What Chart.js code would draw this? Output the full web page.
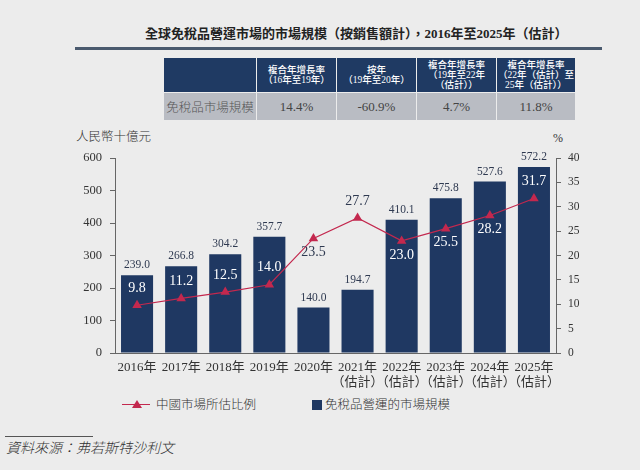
<!DOCTYPE html>
<html>
<head>
<meta charset="utf-8">
<script src="https://cdn.jsdelivr.net/npm/chart.js@4.4.1/dist/chart.umd.min.js"></script>
<style>
  html, body { margin: 0; padding: 0; }
  body {
    width: 640px; height: 470px; position: relative; overflow: hidden;
    background: #ececec;
    font-family: 'Liberation Serif', 'Noto Sans CJK TC', serif;
    color: #333;
  }
  .abs { position: absolute; white-space: nowrap; }
  #title { left: 145px; top: 25px; font-size: 13px; font-weight: bold; color: #222; line-height: 18px; }
  #rule { left: 75px; top: 47px; width: 527px; height: 3px; background: #4a5a6e; }
  .cell { position: absolute; display: flex; align-items: center; justify-content: center; text-align: center; box-sizing: border-box; }
  .head { background: #1f3a63; color: #fff; font-size: 9.5px; line-height: 10px; font-weight: 500; }
  .data { background: #b9bcc3; color: #444; font-size: 13px; }
  .light { font-weight: 300; }
  #ytitle { left: 76px; top: 128px; font-size: 12.5px; line-height: 18px; }
  #y1title { left: 553px; top: 130px; font-size: 12px; line-height: 16px; }
  #chartbox { position: absolute; left: 0; top: 120px; width: 640px; height: 275px; }
  .legend { top: 396px; font-size: 12.5px; line-height: 18px; color: #333; }
  #lgLine { left: 122px; top: 404px; width: 28px; height: 1px; background: #c3284e; }
  #lgTri { left: 132px; top: 400px; width: 0; height: 0; border-left: 5px solid transparent; border-right: 5px solid transparent; border-bottom: 8px solid #c3284e; }
  #lgBox { left: 312px; top: 400px; width: 10px; height: 10px; background: #1f3862; }
  #srcRule { left: 5px; top: 436px; width: 88px; height: 1px; background: #555; }
  #source { left: 6px; top: 440px; font-size: 14px; font-style: italic; line-height: 18px; color: #333; }
</style>
</head>
<body>
<div id="title" class="abs">全球免稅品營運市場的市場規模（按銷售額計），2016年至2025年（估計）</div>
<div id="rule" class="abs"></div>
<div id="table"></div>
<div id="ytitle" class="abs light">人民幣十億元</div>
<div id="y1title" class="abs">%</div>
<div id="chartbox"><canvas id="chart" width="640" height="275"></canvas></div>
<div id="lgLine" class="abs"></div>
<div id="lgTri" class="abs"></div>
<div class="abs legend light" style="left:156px">中國市場所估比例</div>
<div id="lgBox" class="abs"></div>
<div class="abs legend light" style="left:325px">免稅品營運的市場規模</div>
<div id="srcRule" class="abs"></div>
<div id="source" class="abs light">資料來源：弗若斯特沙利文</div>

<script>
// chart data
const years = ['2016年', '2017年', '2018年', '2019年', '2020年',
  ['2021年', '（估計）'], ['2022年', '（估計）'], ['2023年', '（估計）'],
  ['2024年', '（估計）'], ['2025年', '（估計）']];
const marketSize = [239.0, 266.8, 304.2, 357.7, 140.0, 194.7, 410.1, 475.8, 527.6, 572.2];
const chinaShare = [9.8, 11.2, 12.5, 14.0, 23.5, 27.7, 23.0, 25.5, 28.2, 31.7];

// growth table
const tableRowName = '免稅品市場規模';
const tableHeads = [
  ['複合年增長率', '（16年至19年）'],
  ['按年', '（19年至20年）'],
  ['複合年增長率', '（19年至22年', '（估計））'],
  ['複合年增長率', '（22年（估計）至', '25年（估計））']
];
const tableValues = ['14.4%', '-60.9%', '4.7%', '11.8%'];

const serif = "'Liberation Serif', 'Noto Sans CJK TC', serif";
const navy = '#1f3862';
const crimson = '#c3284e';
const labelDark = '#2e3950';

// build the table
const colX = [164, 256, 336, 416, 496, 575];
const table = document.getElementById('table');
function addCell(cls, x0, x1, y, h, html) {
  const d = document.createElement('div');
  d.className = 'cell ' + cls;
  d.style.left = (x0 + 1) + 'px';
  d.style.width = (x1 - x0 - 1) + 'px';
  d.style.top = y + 'px';
  d.style.height = h + 'px';
  d.innerHTML = html;
  table.appendChild(d);
}
addCell('head', colX[0] - 1, colX[1], 58, 34, '');
tableHeads.forEach((lines, i) => addCell('head', colX[i + 1], colX[i + 2], 58, 34, lines.join('<br>')));
addCell('data', colX[0] - 1, colX[1], 93, 27, '<span class="light" style="font-size:12.5px;color:#555">' + tableRowName + '</span>');
tableValues.forEach((v, i) => addCell('data', colX[i + 1], colX[i + 2], 93, 27, v));

// value labels for bars and line points
const valueLabels = {
  id: 'valueLabels',
  afterDatasetsDraw(chart, args, opts) {
    const ctx = chart.ctx;
    const bars = chart.getDatasetMeta(0).data;
    const pts = chart.getDatasetMeta(1).data;
    ctx.save();
    ctx.textAlign = 'center';
    ctx.textBaseline = 'middle';
    ctx.font = '11.5px ' + serif;
    ctx.fillStyle = labelDark;
    bars.forEach((bar, i) => {
      ctx.fillText(marketSize[i].toFixed(1), bar.x, bar.y - 10);
    });
    ctx.font = '14px ' + serif;
    pts.forEach((pt, i) => {
      const y = opts.side[i] === 'up' ? pt.y - 17 : pt.y + 14;
      ctx.fillStyle = y > bars[i].y + 6 ? '#ffffff' : labelDark;
      ctx.fillText(chinaShare[i].toFixed(1), pt.x, y);
    });
    ctx.restore();
  }
};

new Chart(document.getElementById('chart'), {
  type: 'bar',
  data: {
    labels: years,
    datasets: [
      {
        type: 'bar',
        label: '免稅品營運的市場規模',
        data: marketSize,
        backgroundColor: navy,
        categoryPercentage: 1.0,
        barPercentage: 0.727,
        yAxisID: 'y',
        order: 2
      },
      {
        type: 'line',
        label: '中國市場所估比例',
        data: chinaShare,
        borderColor: crimson,
        borderWidth: 1.2,
        backgroundColor: crimson,
        pointStyle: 'triangle',
        pointRadius: 5.5,
        pointBorderWidth: 0,
        tension: 0,
        yAxisID: 'y1',
        order: 1
      }
    ]
  },
  options: {
    responsive: false,
    animation: false,
    devicePixelRatio: 1,
    layout: { padding: { top: 38, left: 0, right: 0, bottom: 0 } },
    plugins: {
      legend: { display: false },
      tooltip: { enabled: false },
      valueLabels: { side: ['up', 'up', 'up', 'up', 'down', 'up', 'down', 'down', 'down', 'up'] }
    },
    scales: {
      x: {
        grid: { display: false, drawTicks: false },
        border: { display: true, color: '#666' },
        ticks: {
          color: '#333', padding: 7, maxRotation: 0, minRotation: 0, autoSkip: false,
          font: { family: serif, size: 13, lineHeight: 1.15 }
        },
        afterFit: (s) => { s.height = 42; }
      },
      y: {
        position: 'left',
        min: 0, max: 600,
        grid: { drawOnChartArea: false, drawTicks: true, tickLength: 5, color: '#666' },
        border: { color: '#666' },
        ticks: { stepSize: 100, color: '#333', padding: 8, font: { family: serif, size: 12.5 } },
        afterFit: (s) => { s.width = 115; }
      },
      y1: {
        position: 'right',
        min: 0, max: 40,
        grid: { drawOnChartArea: false, drawTicks: true, tickLength: 5, color: '#666' },
        border: { color: '#666' },
        ticks: { stepSize: 5, color: '#333', padding: 7, font: { family: serif, size: 11.5 } },
        afterFit: (s) => { s.width = 84; }
      }
    }
  },
  plugins: [valueLabels]
});
</script>
</body>
</html>
